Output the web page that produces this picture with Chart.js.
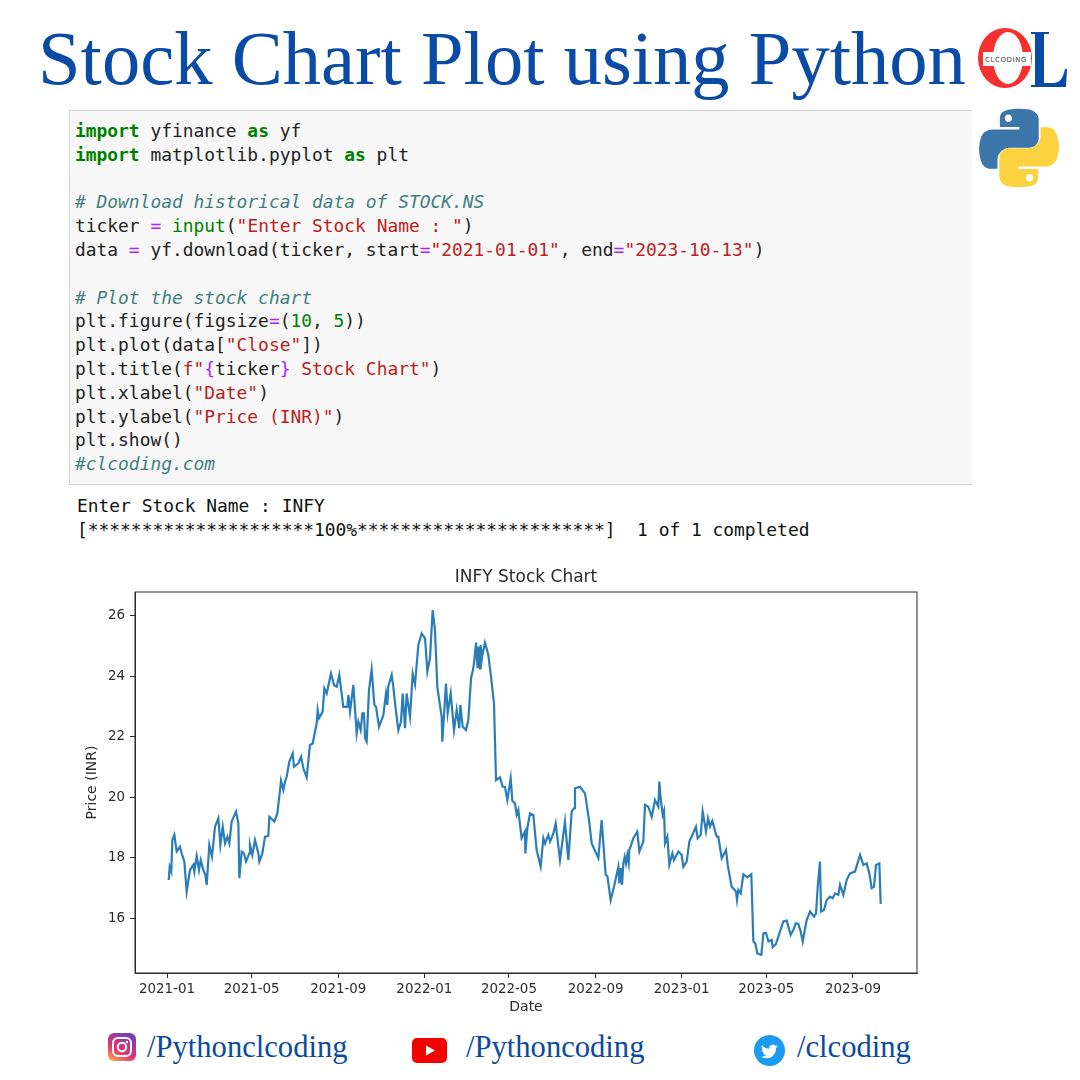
<!DOCTYPE html>
<html>
<head>
<meta charset="utf-8">
<title>Stock Chart Plot using Python</title>
<script src="https://cdn.jsdelivr.net/npm/chart.js@4"></script>
<style>
  html, body { margin: 0; padding: 0; background: #fff; }
  #page { position: relative; width: 1080px; height: 1080px; overflow: hidden; }
  #page > * { position: absolute; }
  #heading { left: 38px; top: 15px; margin: 0; font: 400 76px "Liberation Serif", serif; color: #0a4ba5; white-space: nowrap; transform: scaleX(1.008); transform-origin: left top; }
  #codebox { left: 69px; top: 110px; width: 903px; height: 375px; box-sizing: border-box; background: #f7f7f7; border: 1px solid #cfcfcf; border-right: 0; }
  pre { margin: 0; font: 17.9px/23.8px "DejaVu Sans Mono", monospace; color: #222; }
  #code { left: 75px; top: 119px; }
  #stdout { left: 77px; top: 494px; color: #111; }
  .k { color: #008000; font-weight: bold; }
  .c { color: #408080; font-style: italic; }
  .s { color: #ba2121; }
  .o { color: #aa22ff; }
  .n { color: #008000; }
  .social { font: 400 30.6px "Liberation Serif", serif; color: #0b4a9e; white-space: nowrap; top: 1030px; }
  #chartBox { left: 66px; top: 560px; width: 920px; height: 460px; }
</style>
</head>
<body>
<div id="page">
  <h1 id="heading">Stock Chart Plot using Python</h1>

  <svg style="left:970px;top:20px" width="110" height="76" viewBox="970 20 110 76">
    <path fill="#f5302e" fill-rule="evenodd" d="M1005 28a27 30 0 1 0 0 60a27 30 0 1 0 0-60ZM1008 32a15 26 0 1 1 0 52a15 26 0 1 1 0-52Z"/>
    <path fill="#0a4ba5" d="M1031 32h18v2h-5v49h9c7 0 10-5 12-14h2l-1 18h-35v-2h4v-51h-4Z"/>
    <rect x="983" y="52" width="48" height="14" fill="#fff"/>
    <text x="985" y="62" font-family="DejaVu Sans" font-size="7" letter-spacing="0.6" fill="#444">CLCODING</text>
  </svg>

  <svg style="left:979px;top:108px" width="80" height="80" viewBox="0 0 110 110">
    <path fill="#3b75a9" d="M54.9 0.9C50.3 0.9 46 1.3 42.1 2 30.8 4 28.7 8.2 28.7 15.9V26H55.4V29.4H18.7C10.9 29.4 4.1 34 2 42.9-0.5 53.1-0.6 59.4 2 70 3.9 77.9 8.4 83.5 16.2 83.5H25.4V71.3C25.4 62.5 33 54.7 42.1 54.7H68.8C76.2 54.7 82.1 48.6 82.1 41.2V15.9C82.1 8.7 76 3.3 68.8 2 64.2 1.3 59.5 0.9 54.9 0.9ZM40.4 9C43.2 9 45.4 11.3 45.4 14.1 45.4 16.9 43.2 19.2 40.4 19.2 37.7 19.2 35.4 16.9 35.4 14.1 35.4 11.3 37.7 9 40.4 9Z"/>
    <path fill="#fdd241" transform="rotate(180 55 55)" d="M54.9 0.9C50.3 0.9 46 1.3 42.1 2 30.8 4 28.7 8.2 28.7 15.9V26H55.4V29.4H18.7C10.9 29.4 4.1 34 2 42.9-0.5 53.1-0.6 59.4 2 70 3.9 77.9 8.4 83.5 16.2 83.5H25.4V71.3C25.4 62.5 33 54.7 42.1 54.7H68.8C76.2 54.7 82.1 48.6 82.1 41.2V15.9C82.1 8.7 76 3.3 68.8 2 64.2 1.3 59.5 0.9 54.9 0.9ZM40.4 9C43.2 9 45.4 11.3 45.4 14.1 45.4 16.9 43.2 19.2 40.4 19.2 37.7 19.2 35.4 16.9 35.4 14.1 35.4 11.3 37.7 9 40.4 9Z"/>
  </svg>

  <div id="codebox"></div>
<pre id="code"><span class="k">import</span> yfinance <span class="k">as</span> yf
<span class="k">import</span> matplotlib.pyplot <span class="k">as</span> plt

<span class="c"># Download historical data of STOCK.NS</span>
ticker <span class="o">=</span> <span class="n">input</span>(<span class="s">"Enter Stock Name : "</span>)
data <span class="o">=</span> yf.download(ticker, start<span class="o">=</span><span class="s">"2021-01-01"</span>, end<span class="o">=</span><span class="s">"2023-10-13"</span>)

<span class="c"># Plot the stock chart</span>
plt.figure(figsize<span class="o">=</span>(<span class="n">10</span>, <span class="n">5</span>))
plt.plot(data[<span class="s">"Close"</span>])
plt.title(<span class="s">f"</span><span class="o">{</span>ticker<span class="o">}</span><span class="s"> Stock Chart"</span>)
plt.xlabel(<span class="s">"Date"</span>)
plt.ylabel(<span class="s">"Price (INR)"</span>)
plt.show()
<span class="c">#clcoding.com</span></pre>

<pre id="stdout">Enter Stock Name : INFY
[*********************100%***********************]  1 of 1 completed</pre>

  <div id="chartBox"><canvas id="stockChart" width="920" height="460"></canvas></div>

  <svg style="left:108px;top:1033px" width="28" height="28" viewBox="0 0 28 28">
    <defs><linearGradient id="ig" x1="0" y1="1" x2="0.6" y2="0">
      <stop offset="0" stop-color="#fdb44f"/><stop offset="0.45" stop-color="#e5346f"/><stop offset="1" stop-color="#7a3fb5"/>
    </linearGradient></defs>
    <rect width="28" height="28" rx="6" fill="url(#ig)"/>
    <rect x="5" y="5" width="18" height="18" rx="5" fill="none" stroke="#fff" stroke-width="2"/>
    <circle cx="14" cy="14" r="4.2" fill="none" stroke="#fff" stroke-width="2"/>
    <circle cx="19" cy="9" r="1.2" fill="#fff"/>
  </svg>
  <div class="social" style="left:147px">/Pythonclcoding</div>

  <svg style="left:412px;top:1038px" width="35" height="25" viewBox="0 0 35 25">
    <rect width="35" height="25" rx="5" fill="#f40000"/>
    <path d="M14 7.5 L23 12.5 L14 17.5 Z" fill="#fff"/>
  </svg>
  <div class="social" style="left:466px">/Pythoncoding</div>

  <svg style="left:754px;top:1035px" width="31" height="31" viewBox="0 0 31 31">
    <circle cx="15.5" cy="15.5" r="15.5" fill="#1d9bf0"/>
    <path transform="translate(7 8) scale(0.7)" fill="#fff" d="M23.95 4.57a10 10 0 0 1-2.82.77 4.96 4.96 0 0 0 2.16-2.72c-.95.55-2 .95-3.12 1.18a4.92 4.92 0 0 0-8.38 4.48C7.69 8.09 4.07 6.13 1.64 3.16a4.82 4.82 0 0 0-.67 2.48c0 1.71.87 3.21 2.19 4.1a4.9 4.9 0 0 1-2.23-.61v.06c0 2.39 1.7 4.38 3.95 4.83a5 5 0 0 1-2.21.08 4.94 4.94 0 0 0 4.6 3.42A9.87 9.87 0 0 1 0 19.54a14 14 0 0 0 7.56 2.21c9.05 0 14-7.5 14-13.98 0-.21 0-.42-.02-.63a9.94 9.94 0 0 0 2.46-2.54z"/>
  </svg>
  <div class="social" style="left:797px">/clcoding</div>
</div>

<script>
// days since 2021-01-01
const days = [
  2.4, 3.8, 6.1, 7.6, 10.4, 13.7, 18.4, 20.8, 24.6, 27.9, 32.6, 37.4, 38.8, 42.1, 45.4, 47.8, 51.5, 54.4, 56.3, 60,
  63.8, 68.1, 72.8, 75.7, 79, 82.3, 85.6, 88.4, 91.7, 97.9, 101.2, 102.6, 105.9, 109.2, 112.1, 116.8, 117.7, 121, 124.8, 129.6,
  131, 135.2, 139, 143.7, 145.2, 152.2, 156.5, 160.3, 161.7, 165, 167.4, 169.7, 173.5, 178.3, 180.1, 186.3, 190.1, 193.4, 198.1, 202.8,
  206.6, 212.3, 213.7, 215.6, 220.8, 223.2, 226.5, 232.6, 236.9, 240.7, 244.4, 250.1, 255.8, 257.2, 259.6, 264.3, 269, 271.4, 274.7, 277.1,
  279.4, 280.9, 283.2, 286.5, 290.3, 294.1, 296.5, 300.7, 306.9, 310.6, 312.5, 314, 318.7, 321, 324.3, 328.1, 331.9, 334.3, 337.6, 339.9,
  344.7, 348.5, 351.8, 356.5, 361.2, 366, 369.3, 373, 376.8, 380.1, 383.4, 389.6, 390.5, 395.7, 398.1, 402.4, 407.1, 410.9, 414.6, 416,
  419.4, 424.1, 427.4, 431.2, 434.5, 436.4, 438.3, 439.7, 440.7, 442.1, 444, 444.9, 446.3, 447.7, 451, 455.8, 459.6, 463.8, 466.7, 472.3,
  476.1, 479.4, 482.7, 487.5, 489.8, 493.6, 496, 498.3, 503, 507.8, 508.3, 511.1, 514.9, 519.6, 524.3, 530, 533.8, 536.2, 540.9, 543.3,
  548, 551.3, 557.4, 564.5, 569.3, 574, 577.3, 578.7, 585.8, 592.9, 598.6, 602.4, 611.8, 616.5, 622.2, 624.6, 629.3, 634, 640.2, 641.6,
  643.5, 645.4, 647.3, 649.2, 651, 652.9, 654.9, 655.8, 661.5, 667.1, 670, 675.6, 678, 682.7, 687.5, 692.2, 696.9, 698.3, 700.2, 703.1,
  705, 706.4, 709.7, 712.5, 716.8, 719.1, 725.3, 730, 732.4, 737.1, 740.9, 750.3, 752.7, 757, 759.8, 764.5, 767.4, 770.2, 773.5, 779.7,
  782, 786.8, 792.9, 795.3, 800.9, 807.1, 808.5, 810.4, 813.7, 817.5, 823.2, 828.8, 831.7, 834.5, 837.3, 843, 845.9, 849.6, 853, 857.7,
  859.1, 863.8, 869.5, 874.2, 879, 884.6, 888.4, 891.7, 895.5, 898.8, 901.7, 907.3, 912.1, 917.7, 920.6, 923, 926.2, 927.7, 931.9, 935.7,
  940.4, 944.2, 947.5, 952.2, 954.6, 959.3, 964, 968.8, 975.9, 983, 987.7, 992.4, 996.2, 999.5, 1002.8, 1005.7, 1010.4, 1012.3
];

const closes = [
  17.27, 17.71, 17.55, 18.59, 18.76, 18.21, 18.37, 18.15, 17.88, 16.89, 17.6, 17.77, 17.55, 18.06, 17.6, 17.93, 17.6, 17.44, 17.11, 18.43,
  18.04, 19.03, 19.31, 18.43, 19.03, 18.48, 18.7, 18.48, 19.2, 19.53, 19.14, 17.33, 18.21, 18.15, 17.88, 18.15, 18.43, 18.1, 18.59, 18.15,
  17.88, 18.15, 18.7, 18.72, 19.36, 19.2, 19.47, 20.24, 20.55, 20.24, 20.52, 20.68, 21.18, 21.45, 21.01, 21.12, 21.34, 20.96, 20.66, 21.73,
  21.78, 22.44, 22.88, 22.61, 22.83, 23.6, 23.43, 24.09, 23.71, 23.65, 24.04, 22.99, 22.99, 23.38, 22.83, 23.71, 22.11, 22.5, 22.22, 22.77,
  22.77, 21.95, 21.84, 23.54, 24.22, 23.05, 22.99, 22.33, 22.72, 23.43, 23.05, 23.68, 24.04, 23.65, 22.94, 22.22, 22.5, 23.43, 22.28, 23.43,
  22.66, 24.09, 23.73, 25.03, 25.41, 25.25, 24.15, 24.59, 26.18, 25.52, 23.65, 22.66, 21.84, 23.76, 22.77, 23.43, 22.22, 22.88, 22.28, 23.05,
  22.33, 22.22, 22.55, 23.93, 24.26, 24.64, 25.11, 24.53, 24.26, 24.98, 24.26, 25.03, 24.53, 24.75, 25.11, 24.7, 23.98, 23.1, 20.57, 20.66,
  20.35, 20.35, 19.91, 20.63, 19.89, 19.8, 19.42, 19.58, 18.65, 18.87, 18.15, 18.98, 19.47, 19.42, 18.26, 17.71, 18.65, 18.48, 18.76, 18.54,
  18.81, 19.14, 17.93, 19.2, 17.93, 19.53, 19.64, 20.3, 20.35, 20.13, 19.25, 18.48, 17.99, 19.25, 17.44, 17.4, 16.61, 17.05, 17.71, 17.16,
  17.66, 17.11, 17.82, 18.04, 17.82, 18.1, 17.82, 18.26, 18.65, 18.87, 18.21, 18.54, 19.75, 19.69, 19.36, 19.91, 19.69, 20.52, 19.97, 19.42,
  19.56, 18.48, 18.7, 17.77, 18.15, 17.93, 18.21, 18.1, 17.71, 17.88, 18.54, 19.03, 18.65, 18.76, 19.53, 18.87, 19.31, 19.03, 19.22, 18.7,
  18.7, 17.99, 18.26, 17.77, 17.05, 16.89, 16.61, 16.94, 16.83, 17.46, 17.36, 17.46, 15.24, 15.18, 14.85, 14.8, 15.51, 15.53, 15.24, 15.29,
  15.05, 15.16, 15.57, 15.9, 15.93, 15.46, 15.62, 15.84, 15.82, 15.57, 15.24, 15.95, 16.23, 16.06, 16.17, 17.05, 17.88, 16.23, 16.28, 16.61,
  16.72, 16.67, 16.83, 16.78, 17.11, 16.78, 17.27, 17.49, 17.55, 18.1, 17.77, 17.82, 17.49, 17, 17.05, 17.77, 17.82, 16.48
];

const xTickDays = [0, 120, 243, 365, 485, 608, 730, 850, 973];
const xTickLabels = ["2021-01", "2021-05", "2021-09", "2022-01", "2022-05", "2022-09", "2023-01", "2023-05", "2023-09"];
const yTicks = [16, 18, 20, 22, 24, 26];

const tickFont = { family: "DejaVu Sans", size: 13.4 };
const labelFont = { family: "DejaVu Sans", size: 14 };
const inkColor = "#2b2b2b";

// top and right spines, chart.js only draws the other two
const frame = {
  id: "frame",
  afterDraw(chart) {
    const { ctx, chartArea: a } = chart;
    ctx.save();
    ctx.strokeStyle = inkColor;
    ctx.lineWidth = 1;
    ctx.strokeRect(a.left, a.top, a.right - a.left, a.bottom - a.top);
    ctx.restore();
  },
};

new Chart(document.getElementById("stockChart"), {
  type: "line",
  data: {
    datasets: [
      {
        data: days.map((d, i) => ({ x: d, y: closes[i] })),
        borderColor: "#2a7db7",
        borderWidth: 2.2,
        pointRadius: 0,
        tension: 0,
      },
    ],
  },
  options: {
    responsive: false,
    animation: false,
    devicePixelRatio: 1,
    plugins: {
      legend: { display: false },
      tooltip: { enabled: false },
      title: {
        display: true,
        text: "INFY Stock Chart",
        color: inkColor,
        font: { family: "DejaVu Sans", size: 17, weight: "normal" },
        padding: { top: 7, bottom: 4.6 },
      },
    },
    scales: {
      x: {
        type: "linear",
        min: -45.4,
        max: 1063.8,
        afterBuildTicks(axis) {
          axis.ticks = xTickDays.map((v) => ({ value: v }));
        },
        afterFit(axis) {
          axis.height = 47;
        },
        ticks: {
          autoSkip: false,
          maxRotation: 0,
          color: inkColor,
          font: tickFont,
          padding: 3,
          callback: (v) => xTickLabels[xTickDays.indexOf(v)],
        },
        grid: { drawOnChartArea: false, tickLength: 5, color: inkColor },
        border: { color: inkColor },
        title: { display: true, text: "Date", color: inkColor, font: labelFont, padding: { top: 0, bottom: 4.6 } },
      },
      y: {
        min: 14.2,
        max: 26.78,
        afterBuildTicks(axis) {
          axis.ticks = yTicks.map((v) => ({ value: v }));
        },
        afterFit(axis) {
          axis.width = 69;
        },
        ticks: { color: inkColor, font: tickFont, padding: 5 },
        grid: { drawOnChartArea: false, tickLength: 5, color: inkColor },
        border: { color: inkColor },
        title: { display: true, text: "Price (INR)", color: inkColor, font: labelFont, padding: { top: 18, bottom: 0 } },
      },
      // empty right axis, balances the left one so the title centres over the plot
      spacer: {
        position: "right",
        afterFit(axis) {
          axis.width = 69;
        },
        ticks: { display: false },
        grid: { display: false },
        border: { display: false },
      },
    },
  },
  plugins: [frame],
});
</script>
</body>
</html>
